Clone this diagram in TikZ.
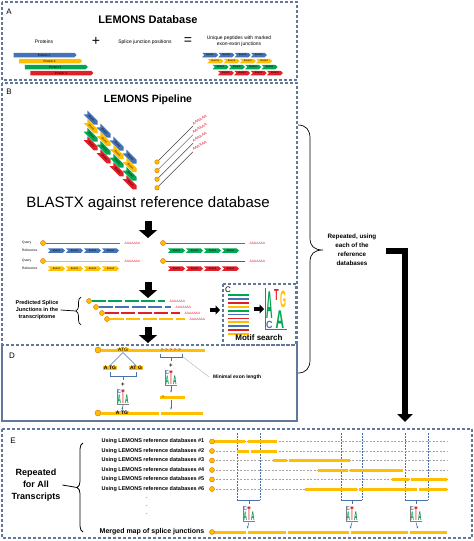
\documentclass[tikz,border=0pt]{standalone}
\usepackage{fontspec}
\setmainfont{Liberation Sans}
\usetikzlibrary{arrows.meta,shapes.symbols,decorations.pathreplacing}

\definecolor{lblue}{RGB}{68,114,180}
\definecolor{lyellow}{RGB}{255,190,0}
\definecolor{lgreen}{RGB}{0,166,80}
\definecolor{lred}{RGB}{226,30,40}
\definecolor{boxcol}{RGB}{98,120,152}
\definecolor{linkcol}{RGB}{72,112,172}

\newcommand{\fsz}[2]{\fontsize{#1}{#2}\selectfont}
\newcommand{\logoglyph}[7]{%
	\pgfmathsetmacro{\gsx}{#4/7.2}\pgfmathsetmacro{\gsy}{#5/7.2}%
	\node[inner sep=0, text=#6, font=\bfseries\fsz{10}{10}] (#1) at (#2,#3) {\scalebox{\gsx}[\gsy]{#7}};}

\begin{document}
\begin{tikzpicture}[x=1pt, y=-1pt, >={Latex[length=2.5pt]},
	panel/.style={draw=boxcol, line width=1.1pt, dash pattern=on 3pt off 2pt},
	letter/.style={font=\fsz{8}{9}, inner sep=0},
	title/.style={font=\bfseries\fsz{11}{13}, inner sep=0},
	small/.style={font=\fsz{5}{6}, align=center, inner sep=0},
	tinylab/.style={font=\fsz{3.3}{4}, anchor=west, inner sep=0},
	dbtext/.style={font=\bfseries\fsz{5.5}{6.5}, anchor=east, inner sep=0.5pt},
	exon/.style={signal, signal to=east, signal from=west, inner sep=0, minimum height=4.5pt, minimum width=16pt, font=\fsz{2.6}{3}},
	prot/.style={signal, signal to=east, inner sep=0, minimum height=4.5pt, minimum width=63pt, font=\fsz{3}{3}},
	polya/.style={text=lred, font=\fsz{3.3}{4}, inner sep=0.5pt},
	ydot/.style={circle, fill=lyellow, draw=orange!85!black, line width=0.4pt, inner sep=0, minimum size=5pt},
	ytag/.style={fill=lyellow, font=\bfseries\fsz{5}{5}, inner sep=0.6pt, minimum height=4pt},
	ybar/.style={draw=lyellow, line width=3pt},
	bigarrow/.style={line width=7pt, -{Triangle[length=8pt, width=18pt]}},
	midarrow/.style={line width=3.5pt, -{Triangle[length=4.5pt, width=9pt]}},
	blink/.style={draw=linkcol, line width=0.6pt},
	barrow/.style={draw=linkcol, line width=0.6pt, ->},
	vguide/.style={draw=linkcol, line width=0.5pt, dash pattern=on 2pt off 1pt},
	track/.style={draw=gray!70, line width=0.5pt, dash pattern=on 2pt off 1.5pt},
	seqlogo/.pic={
		\draw[black!50, line width=0.3pt] (-6,-8) -- (-6,7.5) -- (6,7.5);
		\logoglyph{-a}{-3.7}{2.5}{3.4}{9}{lgreen}{A}
		\logoglyph{-c}{-3.7}{-5}{3.4}{4}{lblue}{C}
		\logoglyph{-t}{0}{0}{3.4}{14}{lred}{T}
		\logoglyph{-g}{3.8}{2.5}{3.4}{9}{lgreen!80!black}{A}
	}]
	\useasboundingbox (0,0) rectangle (474,541);

	% A: database
	\draw[panel] (2,2) rectangle (297,80);
	\node[letter] (lblA) at (9,12) {A};
	\node[title] (titA) at (148,20) {LEMONS Database};
	\node[small] (protT) at (44,42) {Proteins};
	\node[font=\fsz{14}{14}, inner sep=0] (plus) at (96,41) {+};
	\node[small] (sjT) at (145,42) {Splice junction positions};
	\node[font=\fsz{14}{14}, inner sep=0] (eq) at (188,41) {=};
	\node[small] (upT) at (239,41) {Unique peptides with marked\\exon-exon junctions};
	\foreach \c [count=\i from 0] in {lblue,lyellow,lgreen,lred}{
		\pgfmathtruncatemacro{\n}{\i+1}
		\node[prot, fill=\c] (p\n) at ({44+5.6*\i},{55+6*\i}) {Protein \n};
		\foreach \j in {1,...,4}
			\node[exon, fill=\c] (u\n\j) at ({210+5.3*\i+16.3*(\j-1)},{55+6*\i}) {Exon\j};
	}

	% B: pipeline
	\draw[panel] (2,83) rectangle (297,421);
	\node[letter] (lblB) at (9,92) {B};
	\node[title, font=\bfseries\fsz{10.5}{12}] (titB) at (148,100) {LEMONS Pipeline};
	\foreach \c [count=\i from 0] in {lblue,lyellow,lgreen,lred}
		\foreach \j in {1,...,4}
			\node[exon, fill=\c, rotate=-45, minimum width=17pt, minimum height=5.5pt] (d\i\j) at ({85+13*(\j-0.5)},{112+8.6*\i+13*(\j-0.5)}) {Exon\j};
	\foreach \i in {0,...,3}{
		\node[ydot, minimum size=4.5pt] (r\i) at (157,{162+8.6*\i}) {};
		\coordinate (re\i) at (193,{126+8.6*\i});
		\draw[line width=0.5pt, black!75] (r\i) -- (re\i);
		\node[polya, font=\fsz{4}{4}, rotate=30, anchor=south west] (ra\i) at (re\i) {AAAAAA};
	}
	\node[font=\fsz{15}{18}, inner sep=0] (blastx) at (148,204) {BLASTX against reference database};
	\coordinate (a1s) at (148,221);
	\coordinate (a1e) at (148,238);
	\draw[bigarrow] (a1s) -- (a1e);

	\foreach \y in {243,261}{
		\node[tinylab] (ql\y) at (22,\y) {Query};
		\node[tinylab] (rl\y) at (22,\y+7.5) {Reference};
	}
	\foreach \x/\y/\l/\c [count=\k] in {43/243/77/lblue,163/243/82/lgreen,43/261/77/lyellow,163/261/82/lred}{
		\node[ydot] (qd\k) at (\x,\y) {};
		\coordinate (qe\k) at (\x+\l,\y);
		\draw[draw=\c, line width=1pt] (qd\k) -- (qe\k);
		\node[polya, anchor=west] (qa\k) at ([xshift=4pt]qe\k) {AAAAAAA};
		\foreach \j in {1,...,4}
			\node[exon, fill=\c, minimum width=17pt] (qx\k\j) at ({\x+13.5+18*(\j-1)},\y+7.5) {Exon\j};
	}
	\coordinate (a2s) at (148,282);
	\coordinate (a2e) at (148,298);
	\draw[bigarrow] (a2s) -- (a2e);

	\node[font=\bfseries\fsz{5.5}{7}, align=center, inner sep=0] (pred) at (37,310) {Predicted Splice\\Junctions in the\\transcriptome};
	\draw[line width=0.7pt, decorate, decoration={brace, amplitude=5pt}] (81,325) -- (81,297);
	\coordinate (pbt) at (76,311);
	\draw[line width=0.7pt] ([xshift=2pt]pred.east) -- (pbt);
	\foreach \x/\y/\e/\c [count=\k] in {89/301/165/lgreen,96/307/171/lblue,102/313/180/lred,107/319/185/lyellow}{
		\node[ydot] (sd\k) at (\x,\y) {};
		\coordinate (se\k) at (\e,\y);
		\draw[draw=\c, line width=2.4pt, dash pattern=on 14pt off 2.5pt] (sd\k) -- (se\k);
		\node[polya, anchor=west] (sa\k) at ([xshift=4pt]se\k) {AAAAAAA};
	}
	\coordinate (m1s) at (210,310);
	\coordinate (m1e) at (220,310);
	\draw[midarrow] (m1s) -- (m1e);

	% C: motif
	\draw[panel] (223,284) rectangle (296,345);
	\node[letter] (lblC) at (228,290) {C};
	\foreach \c [count=\k from 0] in {lgreen,lblue,lred,lyellow,lgreen,lblue,lred,lyellow,lblue,lred,lyellow}
		\draw[draw=\c, line width=1.8pt] (228,{295+3.9*\k}) -- (249,{295+3.9*\k});
	\coordinate (m2s) at (254,309);
	\coordinate (m2e) at (264,309);
	\draw[midarrow] (m2s) -- (m2e);
	\draw[black!60, line width=0.4pt] (265,288) -- (265,329.5) -- (287,329.5);
	\logoglyph{lgA}{269.5}{305.5}{6.5}{28}{lgreen}{A}
	\logoglyph{lgC}{269.5}{325}{6.5}{7.5}{lblue}{C}
	\logoglyph{lgT}{276.5}{295}{5.5}{11.5}{lred}{T}
	\logoglyph{lgG}{283}{299.5}{5.5}{17}{lyellow}{G}
	\logoglyph{lgA2}{280}{319.5}{8.5}{18.5}{lgreen}{A}
	\node[font=\bfseries\fsz{8}{9}, inner sep=0] (motif) at (259,338) {Motif search};
	\coordinate (a3s) at (148,327);
	\coordinate (a3e) at (148,343);
	\draw[bigarrow] (a3s) -- (a3e);

	% D: minimal exon length
	\draw[panel] (2,345) rectangle (297,421);
	\node[letter] (lblD) at (12,356) {D};
	\node[ydot, minimum size=6pt] (t0) at (98,350) {};
	\coordinate (tend) at (205,350);
	\draw[ybar] (t0) -- (tend);
	\node[ytag, font=\fsz{5}{5}] (atg) at (123,350) {ATG};
	\node[text=orange!75!black, font=\bfseries\fsz{5}{5}, inner sep=0] (chev) at (171,350) {> > > > >};
	\node[ytag] (atg1) at (110,368) {A\,\,TG};
	\node[ytag] (atg2) at (136,368) {AT\,\,G};
	\draw[blink] (atg.south) -- (atg1.north);
	\draw[blink] (atg.south) -- (atg2.north);
	\draw[blink] (110,372) -- (110,376) -- (136,376) -- (136,372) (123,376) -- (123,380);
	\node[font=\bfseries\fsz{6}{6}, inner sep=0] (plus1) at (123,384.5) {+};
	\pic (lgD1) at (123,397) {seqlogo};
	\node[ydot, minimum size=6pt] (b0) at (98,413) {};
	\coordinate (bmid) at (159,413);
	\draw[ybar] (b0) -- (bmid);
	\draw[ybar] (161,413) -- (203,413);
	\node[ytag] (atg3) at (122,413) {A\,\,TG};
	\coordinate (d1s) at (123,405);
	\draw[barrow] (d1s) -- (atg3.north);

	\draw[blink] (160,354) -- (160,357) -- (182,357) -- (182,354) (171,357) -- (171,361);
	\node[font=\bfseries\fsz{6}{6}, inner sep=0] (plus2) at (171,366) {+};
	\pic (lgD2) at (171,378) {seqlogo};
	\coordinate (d2s) at (171,386);
	\coordinate (d2e) at (171,393);
	\draw[barrow] (d2s) -- (d2e);
	\draw[ybar] (160,397) -- (185,397);
	\node[text=orange!75!black, font=\bfseries\fsz{5}{5}, inner sep=0] (chev2) at (163,397) {>};
	\coordinate (d3s) at (171,400);
	\coordinate (d3e) at (171,410);
	\draw[barrow] (d3s) -- (d3e);
	\coordinate (mel) at (183,357);
	\node[font=\bfseries\fsz{5}{6}, anchor=west, inner sep=0] (minex) at (213,377) {Minimal exon length};
	\draw[gray!60, line width=0.4pt] (mel) -- ([xshift=-4pt]minex.west);

	% repeat over databases
	\draw[line width=0.7pt] (298,125) .. controls (306,125) and (310,130) .. (310,138) -- (310,238) .. controls (310,246) and (314,250) .. (323,250) .. controls (314,250) and (310,254) .. (310,262) -- (310,360) .. controls (310,368) and (306,373) .. (298,373);
	\node[font=\bfseries\fsz{6.3}{9}, align=center, inner sep=0] (repdb) at (352,250) {Repeated, using\\each of the\\reference\\databases};
	\coordinate (ra) at (386,251);
	\coordinate (rb) at (405,251);
	\coordinate (rc) at (405,422);
	\draw[line width=5.5pt, -{Triangle[length=8pt, width=15pt]}] (ra) -- (rb) -- (rc);

	% E: all transcripts
	\draw[panel] (2,429) rectangle (472,538);
	\node[letter] (lblE) at (13,441) {E};
	\node[font=\bfseries\fsz{9}{12}, align=center, inner sep=0] (rept) at (36,485) {Repeated\\for All\\Transcripts};
	\draw[line width=0.8pt, decorate, decoration={brace, amplitude=6pt}] (83,532) -- (83,443);
	\coordinate (ebt) at (77,487.5);
	\draw[line width=0.8pt] ([xshift=2pt]rept.east) -- (ebt);
	\foreach \x in {237,260,341,362,405,428}
		\draw[vguide] (\x,433) -- (\x,500);
	\foreach \k in {1,...,6}{
		\pgfmathsetmacro{\yy}{441.5+9.5*(\k-1)}
		\node[dbtext] (db\k) at (205,\yy) {Using LEMONS reference databases \#\k};
		\draw[track] (212,\yy) -- (447,\yy);
	}
	\foreach \k/\a/\b in {1/212/245,1/248/277,2/237/249,2/251/277,3/273/287,3/289/350,4/318/348,4/350/403,5/392/409,5/411/447,6/305/357,6/359/417,6/419/447}
		\draw[ybar] (\a,{441.5+9.5*(\k-1)}) -- (\b,{441.5+9.5*(\k-1)});
	\foreach \k in {1,...,6}
		\node[ydot] (ed\k) at (212,{441.5+9.5*(\k-1)}) {};
	\foreach \y [count=\k] in {498,506,514}
		\node[font=\fsz{6}{6}, inner sep=0] (vd\k) at (147,\y) {.};
	\foreach \a/\b/\m [count=\k] in {237/260/249,341/362/352,405/428/416}{
		\draw[blink] (\a,500) -- (\b,500) (\m,500) -- (\m,504);
		\pic (lgE\k) at (\m,514) {seqlogo};
	}
	\node[dbtext, font=\bfseries\fsz{7}{8}] (merged) at (205,532) {Merged map of splice junctions};
	\foreach \a/\b in {212/246,248/286,288/349,351/408,410/447}
		\draw[ybar] (\a,532) -- (\b,532);
	\node[ydot] (md) at (212,532) {};
	\foreach \s/\e in {249/247,352/350,416/418}{
		\coordinate (es\s) at (\s,522.5);
		\coordinate (ee\s) at (\e,529);
		\draw[barrow] (es\s) -- (ee\s);
	}
\end{tikzpicture}
\end{document}
